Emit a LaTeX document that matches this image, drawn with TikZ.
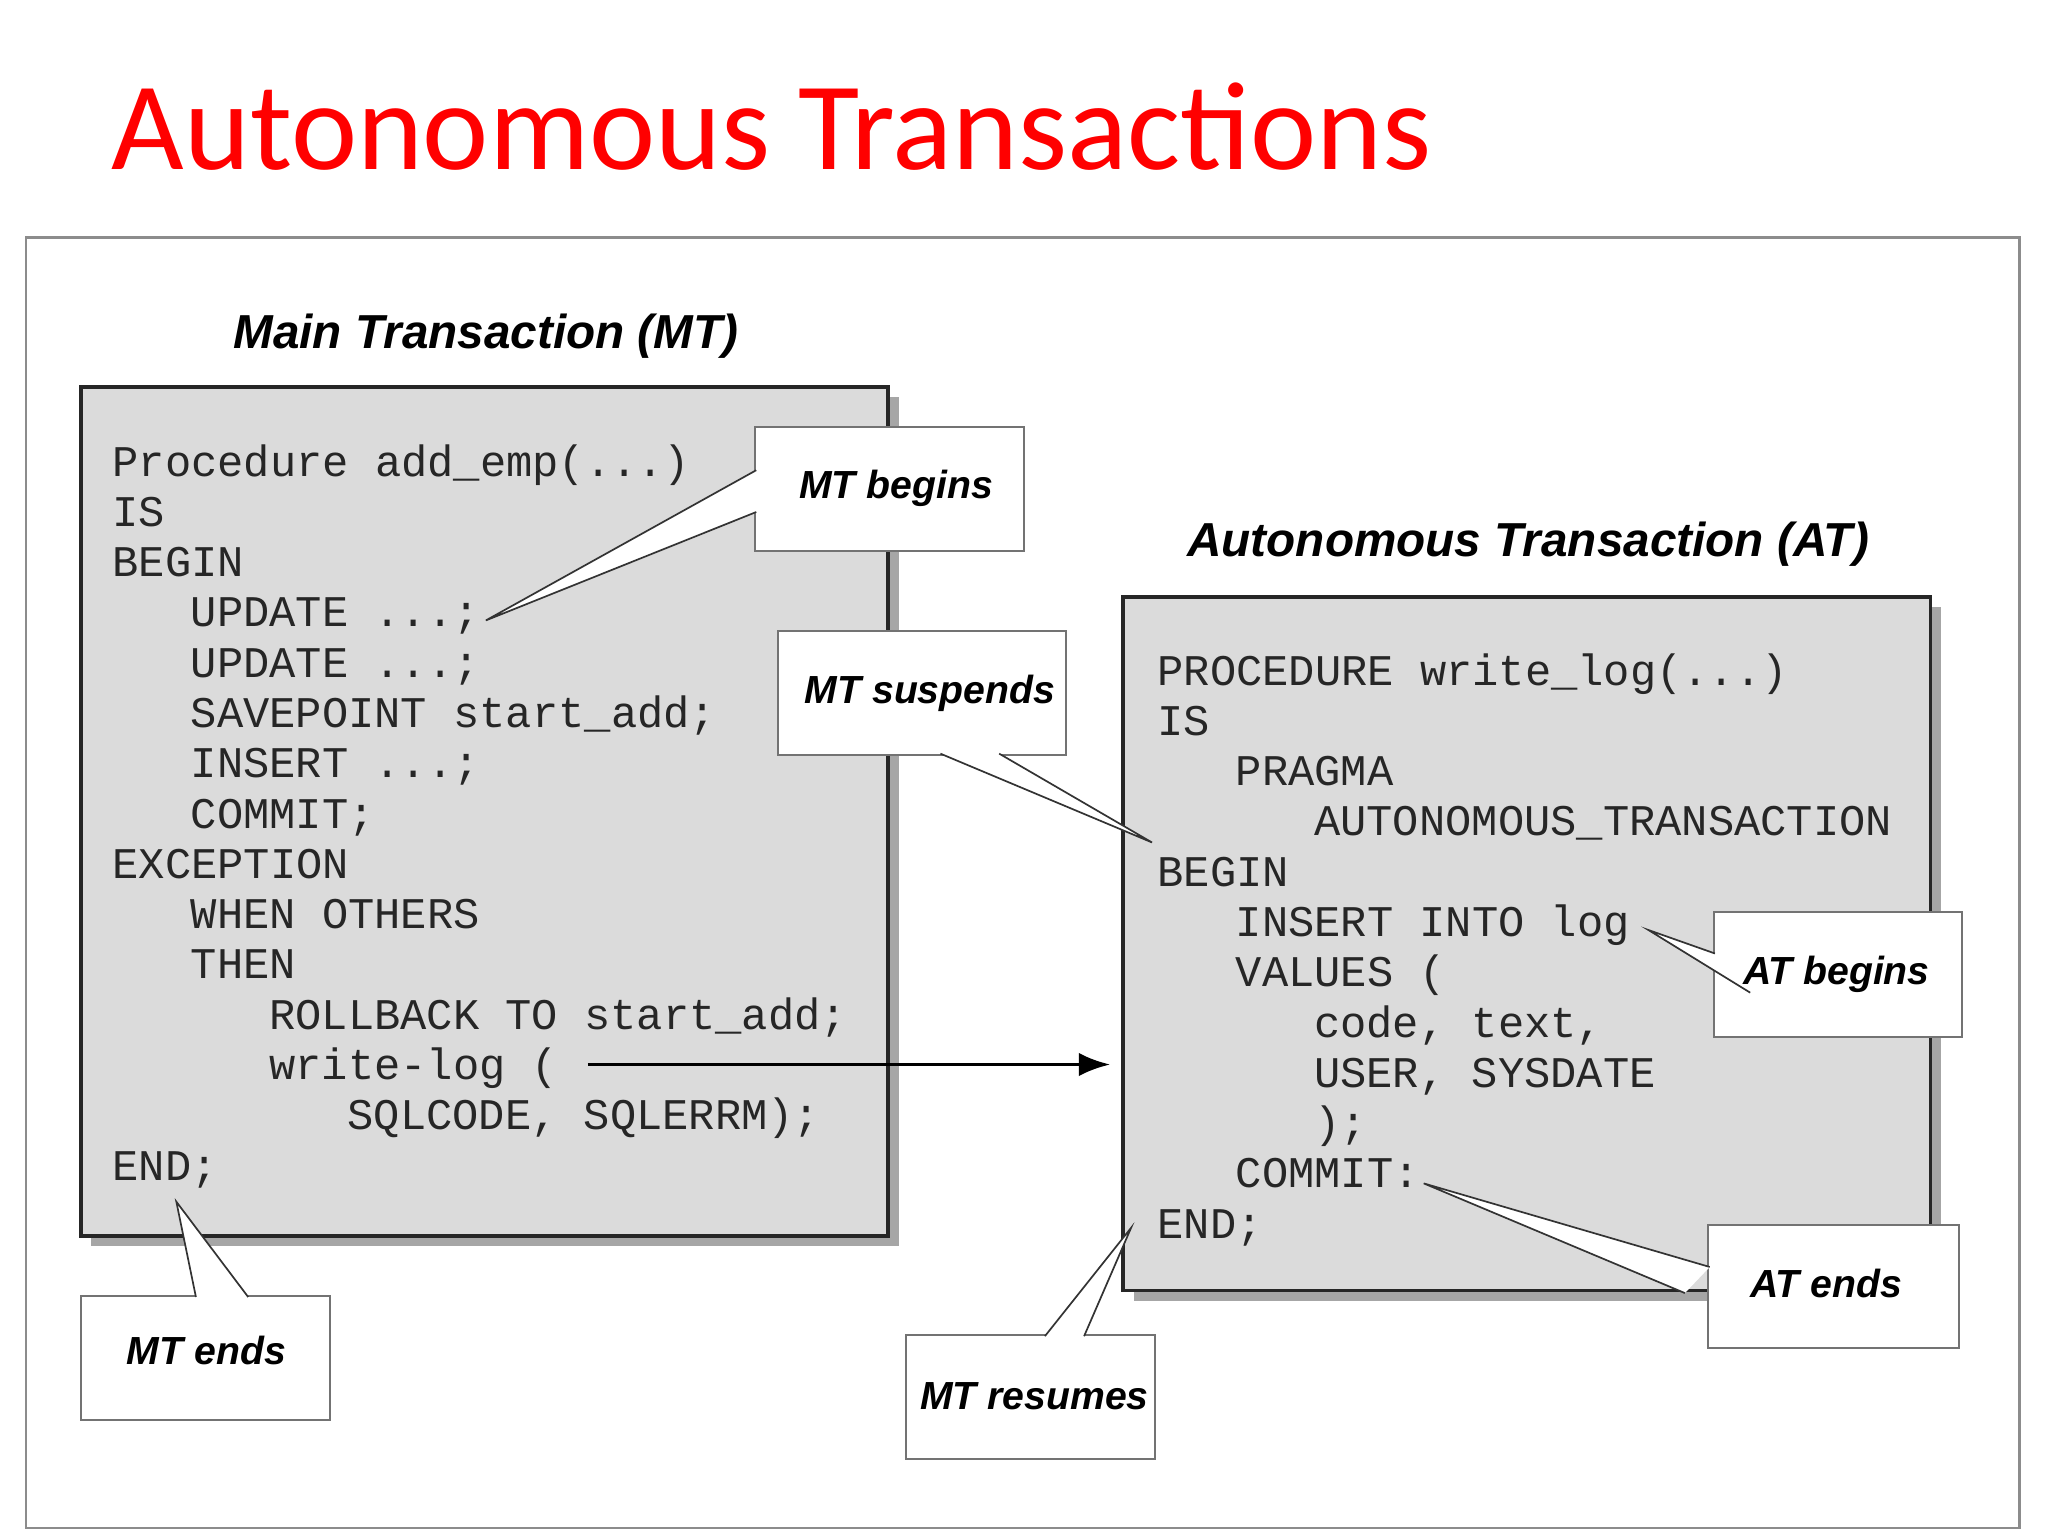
\documentclass[tikz,border=0pt]{standalone}
\usepackage{fontspec}
\usetikzlibrary{arrows.meta}
\setmainfont{Liberation Sans}
\newfontfamily\codefont{Liberation Mono}
\newfontfamily\titlefont{Carlito}
\newcommand{\ind}{\hspace*{60pt}}
\begin{document}
\begin{tikzpicture}[x=1pt,y=-1pt,
  codebox/.style={draw=black!85,line width=3pt,fill=black!14},
  shadowbox/.style={fill=black!35,draw=none},
  callout/.style={draw=black!55,line width=1.5pt,fill=white,inner sep=0pt},
  calltext/.style={font=\fontsize{30}{34}\selectfont\bfseries\itshape},
  wedge/.style={draw=black!80,line width=1.3pt,fill=white},
  code/.style={font=\codefont\fontsize{33.5}{38.5}\selectfont,align=left,anchor=north west,inner sep=0pt,text=black!85},
  boxtitle/.style={font=\fontsize{36.5}{42}\selectfont\bfseries\itshape}]
\useasboundingbox (0,0) rectangle (1568,1176);
\node[font=\titlefont\fontsize{96}{104}\selectfont,text=red,anchor=base west] (title) at (82,130) {Autonomous Transactions};
\draw[black!45,line width=2pt] (20,182) rectangle (1546,1170);
% left box
\node[boxtitle] (mtt) at (372,257) {Main Transaction (MT)};
\fill[shadowbox] (70,304) rectangle (688,954);
\draw[codebox] (62,296) rectangle (680,946);
\node[code] (mtcode) at (86,340) {Procedure add\_emp(...)\\IS\\BEGIN\\
\ind UPDATE ...;\\\ind UPDATE ...;\\\ind SAVEPOINT start\_add;\\\ind INSERT ...;\\\ind COMMIT;\\
EXCEPTION\\\ind WHEN OTHERS\\\ind THEN\\\ind\ind ROLLBACK TO start\_add;\\\ind\ind write-log (\\\ind\ind\ind SQLCODE, SQLERRM);\\END;};
% right box
\node[boxtitle] (att) at (1170,417) {Autonomous Transaction (AT)};
\fill[shadowbox] (868,465) rectangle (1486,996);
\draw[codebox] (860,457) rectangle (1478,988);
\node[code] (atcode) at (886,500) {PROCEDURE write\_log(...)\\IS\\\ind PRAGMA\\\ind\ind AUTONOMOUS\_TRANSACTION\\BEGIN\\
\ind INSERT INTO log\\\ind VALUES (\\\ind\ind code, text,\\\ind\ind USER, SYSDATE\\\ind\ind );\\\ind COMMIT:\\END;};
% arrow
\coordinate (as) at (450,815);
\coordinate (ae) at (850,815);
\draw[line width=3pt,-{Latex[length=24pt,width=18pt]}] (as) -- (ae);
% callouts
\coordinate (p1) at (372,475);
\coordinate (p2) at (882,645);
\coordinate (p3) at (1262,712);
\coordinate (p4) at (1090,906);
\coordinate (p5) at (135,920);
\coordinate (p6) at (866,940);
\draw[callout] (578,327) rectangle (784,422);
\node[calltext] (c1) at (686,374) {MT begins};
\draw[wedge] (579,360) -- (p1) -- (579,392);
\draw[callout] (596,483) rectangle (816,578);
\node[calltext] (c2) at (712,531) {MT suspends};
\draw[wedge] (720,577) -- (p2) -- (765,577);
\draw[callout] (1312,698) rectangle (1502,794);
\node[calltext] (c3) at (1406,746) {AT begins};
\draw[wedge] (1313,730) -- (p3) -- (1340,760);
\draw[callout] (1308,938) rectangle (1500,1032);
\node[calltext] (c4) at (1398,983) {AT ends};
\draw[wedge] (1309,970) -- (p4) -- (1290,990);
\draw[callout] (62,992) rectangle (253,1087);
\node[calltext] (c5) at (158,1034) {MT ends};
\draw[wedge] (150,993) -- (p5) -- (190,993);
\draw[callout] (694,1022) rectangle (884,1117);
\node[calltext] (c6) at (792,1069) {MT resumes};
\draw[wedge] (800,1023) -- (p6) -- (830,1023);
\end{tikzpicture}
\end{document}
